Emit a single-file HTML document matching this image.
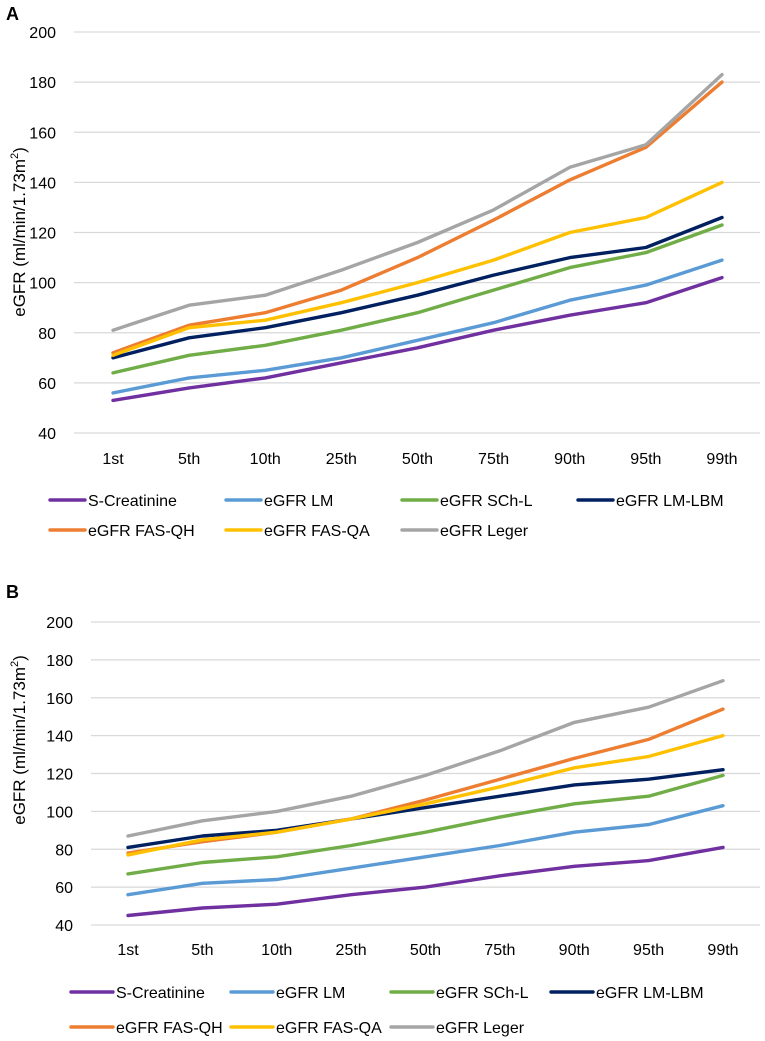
<!DOCTYPE html>
<html><head><meta charset="utf-8">
<style>
html,body{margin:0;padding:0;background:#fff;}
svg{display:block;font-family:"Liberation Sans",sans-serif;}
</style></head>
<body>
<svg id="s" width="765" height="1041" viewBox="0 0 765 1041" xmlns="http://www.w3.org/2000/svg">
<text x="6" y="20" font-size="18" font-weight="bold">A</text>
<text x="6" y="598" font-size="18" font-weight="bold">B</text>
<text transform="translate(25,232) rotate(-90)" font-size="17" text-anchor="middle">eGFR (ml/min/1.73m<tspan dy="-7" font-size="11">2</tspan><tspan dy="7">)</tspan></text>
<text transform="translate(25,740) rotate(-90)" font-size="17" text-anchor="middle">eGFR (ml/min/1.73m<tspan dy="-7" font-size="11">2</tspan><tspan dy="7">)</tspan></text>
<g id="g"></g>
</svg>
<script>
var cols=["#7030A0","#5B9BD5","#70AD47","#002060","#ED7D31","#FFC000","#A5A5A5"];
var names=["S-Creatinine","eGFR LM","eGFR SCh-L","eGFR LM-LBM","eGFR FAS-QH","eGFR FAS-QA","eGFR Leger"];
var cats=["1st","5th","10th","25th","50th","75th","90th","95th","99th"];
var A=[[53,58,62,68,74,81,87,92,102],[56,62,65,70,77,84,93,99,109],[64,71,75,81,88,97,106,112,123],[70,78,82,88,95,103,110,114,126],[72,83,88,97,110,125,141,154,180],[71,82,85,92,100,109,120,126,140],[81,91,95,105,116,129,146,155,183]];
var B=[[45,49,51,56,60,66,71,74,81],[56,62,64,70,76,82,89,93,103],[67,73,76,82,89,97,104,108,119],[81,87,90,96,102,108,114,117,122],[78,84,89,96,106,117,128,138,154],[77,85,89,96,104,113,123,129,140],[87,95,100,108,119,132,147,155,169]];
var h="";
function panel(d,o){
 var ys=function(v){return o.y200+(200-v)*(o.y40-o.y200)/160;};
 for(var v=40;v<=200;v+=20){var y=ys(v);
  h+='<line x1="'+o.gx+'" x2="760" y1="'+y+'" y2="'+y+'" stroke="#d9d9d9" stroke-width="1.2"/>';
  h+='<text x="'+o.lx+'" y="'+(y+6)+'" font-size="'+o.fs+'" text-anchor="end" fill="#000">'+v+'</text>';}
 var xs=function(i){return o.x0+i*(o.x1-o.x0)/8;};
 for(var i=0;i<9;i++)h+='<text x="'+xs(i)+'" y="'+o.cy+'" font-size="'+o.fs+'" text-anchor="middle">'+cats[i]+'</text>';
 for(var k=0;k<7;k++){var p=d[k].map(function(v,i){return xs(i).toFixed(1)+','+ys(v).toFixed(1);}).join(' ');
  h+='<polyline points="'+p+'" fill="none" stroke="'+cols[k]+'" stroke-width="3.4" stroke-linejoin="round" stroke-linecap="round"/>';}
 for(var k=0;k<7;k++){var r=k<o.per?0:1,c=k<o.per?k:k-o.per;var lx=o.lgx[c],ly=o.lgy[r];
  h+='<line x1="'+lx+'" x2="'+(lx+o.ll)+'" y1="'+ly+'" y2="'+ly+'" stroke="'+cols[k]+'" stroke-width="3.4" stroke-linecap="round"/>';
  h+='<text x="'+(lx+o.ll+3)+'" y="'+(ly+6)+'" font-size="'+o.fs+'">'+names[k]+'</text>';}
}
panel(A,{y200:32,y40:433,gx:74,lx:56,x0:113,x1:722,cy:464,fs:16,per:4,lgx:[50,226,402,578],lgy:[500,530],ll:35});
panel(B,{y200:622,y40:925,gx:91,lx:73,x0:128,x1:723,cy:955,fs:16,per:4,lgx:[71,231,391,551],lgy:[992,1027],ll:42});
document.getElementById("g").innerHTML=h;
</script>
</body></html>
